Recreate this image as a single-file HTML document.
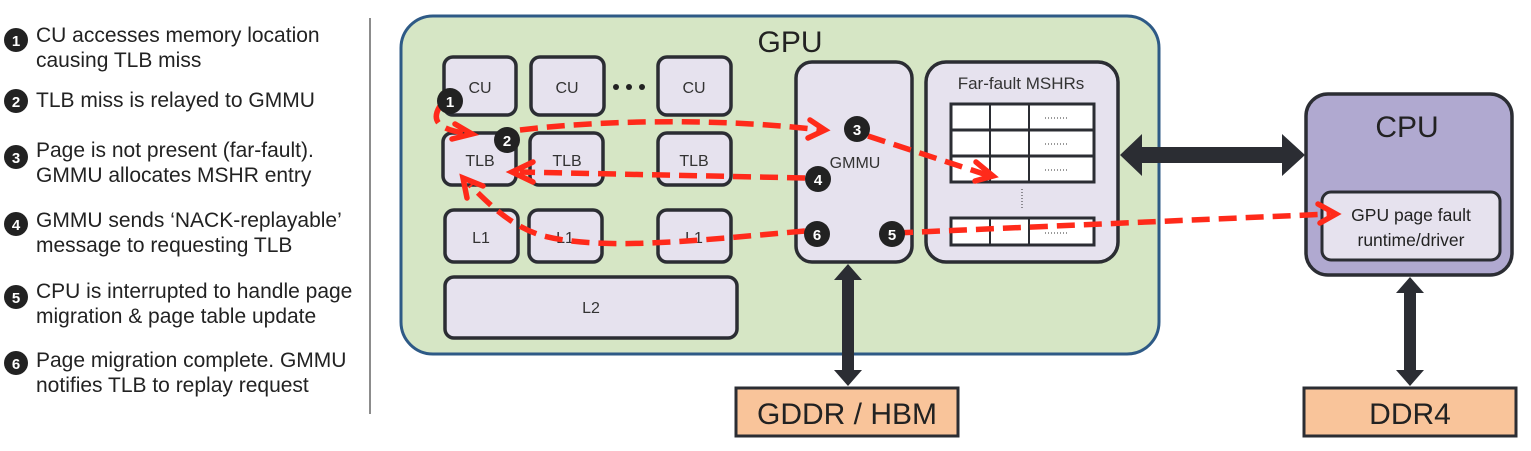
<!DOCTYPE html>
<html><head><style>
html,body{margin:0;padding:0;background:#fff;}
svg{display:block;}
text{font-family:"Liberation Sans",sans-serif;}
.lg{font-size:21px;fill:#222;}
.nb{font-size:15px;fill:#fff;font-weight:bold;text-anchor:middle;}
.bx{fill:#e6e2ee;stroke:#2b2d33;stroke-width:3.5;}
.bl{font-size:16px;fill:#333;text-anchor:middle;}
.rd{fill:none;stroke:#ff2a1a;stroke-width:5.5;stroke-dasharray:18 9;}
.ah{fill:none;stroke:#ff2a1a;stroke-width:5.5;stroke-linecap:round;}
</style></head><body>
<svg width="1531" height="451" viewBox="0 0 1531 451">
<g>
<circle cx="16" cy="40" r="12" fill="#222"/><text class="nb" x="16" y="46">1</text>
<text class="lg" x="36" y="42">CU accesses memory location</text>
<text class="lg" x="36" y="67">causing TLB miss</text>
<circle cx="16" cy="101" r="12" fill="#222"/><text class="nb" x="16" y="107">2</text>
<text class="lg" x="36" y="107">TLB miss is relayed to GMMU</text>
<circle cx="16" cy="157" r="12" fill="#222"/><text class="nb" x="16" y="163">3</text>
<text class="lg" x="36" y="157">Page is not present (far-fault).</text>
<text class="lg" x="36" y="182">GMMU allocates MSHR entry</text>
<circle cx="16" cy="224" r="12" fill="#222"/><text class="nb" x="16" y="230">4</text>
<text class="lg" x="36" y="227">GMMU sends ‘NACK-replayable’</text>
<text class="lg" x="36" y="252">message to requesting TLB</text>
<circle cx="16" cy="297" r="12" fill="#222"/><text class="nb" x="16" y="303">5</text>
<text class="lg" x="36" y="298">CPU is interrupted to handle page</text>
<text class="lg" x="36" y="323">migration &amp; page table update</text>
<circle cx="16" cy="363" r="12" fill="#222"/><text class="nb" x="16" y="369">6</text>
<text class="lg" x="36" y="367">Page migration complete. GMMU</text>
<text class="lg" x="36" y="392">notifies TLB to replay request</text>
</g>
<line x1="370" y1="18" x2="370" y2="414" stroke="#666" stroke-width="1.5"/>

<!-- GPU -->
<rect x="401" y="16" width="758" height="338" rx="32" fill="#d6e6c5" stroke="#2e5a86" stroke-width="3"/>
<text x="790" y="52" font-size="30" fill="#222" text-anchor="middle">GPU</text>
<rect class="bx" x="444" y="57" width="72" height="58" rx="9"/><text class="bl" x="480" y="93">CU</text>
<rect class="bx" x="531" y="57" width="73" height="58" rx="9"/><text class="bl" x="567" y="93">CU</text>
<rect class="bx" x="658" y="57" width="73" height="58" rx="9"/><text class="bl" x="694" y="93">CU</text>
<circle cx="616" cy="87" r="3" fill="#222"/><circle cx="629" cy="87" r="3" fill="#222"/><circle cx="642" cy="87" r="3" fill="#222"/>
<rect class="bx" x="443" y="133" width="73" height="52" rx="9"/><text class="bl" x="480" y="166">TLB</text>
<rect class="bx" x="530" y="133" width="73" height="52" rx="9"/><text class="bl" x="567" y="166">TLB</text>
<rect class="bx" x="658" y="133" width="73" height="52" rx="9"/><text class="bl" x="694" y="166">TLB</text>
<rect class="bx" x="445" y="210" width="73" height="52" rx="9"/><text class="bl" x="481" y="243">L1</text>
<rect class="bx" x="529" y="210" width="73" height="52" rx="9"/><text class="bl" x="565" y="243">L1</text>
<rect class="bx" x="658" y="210" width="73" height="52" rx="9"/><text class="bl" x="694" y="243">L1</text>
<rect class="bx" x="445" y="277" width="292" height="61" rx="9"/><text class="bl" x="591" y="313">L2</text>
<rect class="bx" x="796" y="62" width="116" height="200" rx="16"/><text class="bl" x="855" y="168">GMMU</text>
<rect class="bx" x="926" y="62" width="192" height="200" rx="20"/>
<text x="1021" y="89" font-size="17" fill="#333" text-anchor="middle">Far-fault MSHRs</text>
<g fill="#fff" stroke="#2b2d33" stroke-width="3">
<rect x="951" y="104" width="143" height="78"/>
<rect x="951" y="218" width="143" height="27"/>
</g>
<g stroke="#2b2d33" stroke-width="2">
<line x1="951" y1="130" x2="1094" y2="130" stroke-width="3"/>
<line x1="951" y1="156" x2="1094" y2="156" stroke-width="3"/>
<line x1="990" y1="104" x2="990" y2="182"/><line x1="1029" y1="104" x2="1029" y2="182"/>
<line x1="990" y1="218" x2="990" y2="245"/><line x1="1029" y1="218" x2="1029" y2="245"/>
</g>
<g stroke="#333" stroke-width="1" stroke-dasharray="1 2">
<line x1="1045" y1="118" x2="1068" y2="118"/><line x1="1045" y1="144" x2="1068" y2="144"/>
<line x1="1045" y1="170" x2="1068" y2="170"/><line x1="1045" y1="233" x2="1068" y2="233"/>
<line x1="1022" y1="189" x2="1022" y2="210"/>
</g>

<!-- CPU -->
<rect x="1306" y="94" width="206" height="181" rx="22" fill="#b0a9d0" stroke="#2b2d33" stroke-width="3.5"/>
<text x="1407" y="137" font-size="30" fill="#222" text-anchor="middle">CPU</text>
<rect x="1322" y="192" width="178" height="68" rx="9" fill="#e6e2ee" stroke="#2b2d33" stroke-width="3"/>
<text x="1411" y="221" font-size="17.5" fill="#222" text-anchor="middle">GPU page fault</text>
<text x="1411" y="246" font-size="17.5" fill="#222" text-anchor="middle">runtime/driver</text>

<!-- memory -->
<rect x="736" y="388" width="222" height="48" fill="#f9c49a" stroke="#2b2d33" stroke-width="3"/>
<text x="847" y="424" font-size="30" fill="#222" text-anchor="middle">GDDR / HBM</text>
<rect x="1304" y="388" width="212" height="48" fill="#f9c49a" stroke="#2b2d33" stroke-width="3"/>
<text x="1410" y="424" font-size="30" fill="#222" text-anchor="middle">DDR4</text>

<!-- black arrows -->
<g fill="#2b2d33">
<polygon points="1120,155 1142,134 1142,147 1282,147 1282,134 1305,155 1282,176 1282,163 1142,163 1142,176"/>
<polygon points="848,264 862,280 854,280 854,370 862,370 848,386 834,370 842,370 842,280 834,280"/>
<polygon points="1410,277 1424,293 1416,293 1416,370 1424,370 1410,386 1396,370 1404,370 1404,293 1396,293"/>
</g>

<!-- red dashed -->
<path class="rd" d="M440,106 C430,122 440,130 470,134"/>
<path class="ah" d="M455,124 L472,134 L452,139"/>
<path class="rd" d="M520,130 C620,118 740,120 820,130"/>
<path class="ah" d="M810,120 L825,130 L808,138"/>
<path class="rd" d="M868,136 L990,176"/>
<path class="ah" d="M976,162 L993,176 L975,181"/>
<path class="rd" d="M805,178 L520,172"/>
<path class="ah" d="M533,162 L512,172 L533,182"/>
<path class="rd" d="M805,231 C700,240 600,252 540,235 C510,225 490,205 470,185"/>
<path class="ah" d="M467,198 L463,178 L483,186"/>
<path class="rd" d="M895,233 L1330,214"/>
<path class="ah" d="M1318,204 L1336,214 L1320,223"/>

<!-- numbered circles on diagram -->
<g fill="#222">
<circle cx="450" cy="101" r="13"/><circle cx="507" cy="140" r="13"/><circle cx="857" cy="129" r="13"/>
<circle cx="818" cy="179" r="13"/><circle cx="892" cy="234" r="13"/><circle cx="817" cy="234" r="13"/>
</g>
<g>
<text class="nb" x="450" y="107" font-size="17">1</text>
<text class="nb" x="507" y="146" font-size="17">2</text>
<text class="nb" x="857" y="135" font-size="17">3</text>
<text class="nb" x="818" y="185" font-size="17">4</text>
<text class="nb" x="892" y="240" font-size="17">5</text>
<text class="nb" x="817" y="240" font-size="17">6</text>
</g>
</svg>
</body></html>
